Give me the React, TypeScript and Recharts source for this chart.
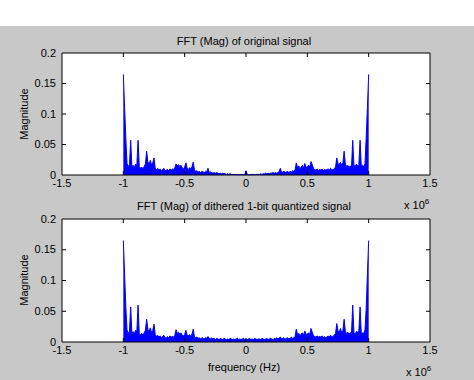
import { Area, AreaChart, CartesianGrid, XAxis, YAxis } from "recharts";

const FONT = "'Liberation Sans', Arial, Helvetica, sans-serif";

// FFT bins: -1e6 .. 1e6 Hz, step 0.01e6 (201 bins), values in x10^6 Hz
const binStart = -1;
const binStep = 0.01;

const xTicks = [-1.5, -1, -0.5, 0, 0.5, 1, 1.5];
const yTicks = [0, 0.05, 0.1, 0.15, 0.2];

// magnitude of original signal
const originalMag = [
  0.165, 0.112, 0.062, 0.019, 0.014, 0.017, 0.057, 0.013, 0.016, 0.012,
  0.018, 0.015, 0.057, 0.014, 0.011, 0.013, 0.010, 0.014, 0.018, 0.039,
  0.022, 0.017, 0.024, 0.016, 0.020, 0.028, 0.011, 0.009, 0.011, 0.008,
  0.010, 0.007, 0.009, 0.011, 0.007, 0.008, 0.009, 0.007, 0.010, 0.008,
  0.010, 0.009, 0.012, 0.018, 0.015, 0.017, 0.014, 0.016, 0.012, 0.010,
  0.013, 0.020, 0.011, 0.009, 0.012, 0.010, 0.014, 0.021, 0.008, 0.006,
  0.007, 0.005, 0.006, 0.004, 0.006, 0.005, 0.004, 0.006, 0.005, 0.011,
  0.004, 0.005, 0.004, 0.003, 0.004, 0.003, 0.004, 0.003, 0.002, 0.003,
  0.002, 0.003, 0.002, 0.002, 0.001, 0.002, 0.001, 0.002, 0.001, 0.001,
  0.001, 0.001, 0.0005, 0.001, 0.0005, 0.0005, 0.001, 0.0005, 0.0005, 0.001,
  0.007,
  0.001, 0.0005, 0.0005, 0.001, 0.0005, 0.001, 0.0005, 0.001, 0.001, 0.001,
  0.001, 0.002, 0.001, 0.002, 0.002, 0.003, 0.002, 0.003, 0.002, 0.003,
  0.003, 0.004, 0.003, 0.004, 0.003, 0.004, 0.005, 0.011, 0.004, 0.005,
  0.006, 0.004, 0.005, 0.006, 0.004, 0.006, 0.005, 0.007, 0.006, 0.008,
  0.020, 0.012, 0.015, 0.010, 0.013, 0.016, 0.011, 0.019, 0.012, 0.014,
  0.016, 0.013, 0.022, 0.017, 0.011, 0.009, 0.008, 0.010, 0.007, 0.009,
  0.008, 0.010, 0.007, 0.009, 0.008, 0.009, 0.010, 0.008, 0.011, 0.009,
  0.008, 0.011, 0.013, 0.028, 0.019, 0.017, 0.021, 0.016, 0.020, 0.039,
  0.018, 0.014, 0.016, 0.012, 0.015, 0.013, 0.057, 0.016, 0.014, 0.018,
  0.015, 0.017, 0.057, 0.014, 0.016, 0.013, 0.019, 0.062, 0.112, 0.165,
];

// magnitude of dithered 1-bit quantized signal
const ditheredMag = [
  0.165, 0.112, 0.058, 0.020, 0.013, 0.018, 0.057, 0.014, 0.017, 0.013,
  0.019, 0.016, 0.060, 0.013, 0.012, 0.014, 0.011, 0.015, 0.019, 0.037,
  0.021, 0.016, 0.023, 0.015, 0.019, 0.029, 0.012, 0.009, 0.011, 0.008,
  0.010, 0.007, 0.009, 0.011, 0.007, 0.006, 0.009, 0.007, 0.010, 0.008,
  0.009, 0.008, 0.011, 0.020, 0.014, 0.016, 0.013, 0.015, 0.011, 0.010,
  0.012, 0.019, 0.011, 0.010, 0.012, 0.009, 0.013, 0.021, 0.008, 0.007,
  0.008, 0.006, 0.007, 0.005, 0.007, 0.006, 0.005, 0.007, 0.006, 0.009,
  0.006, 0.005, 0.007, 0.005, 0.006, 0.004, 0.006, 0.005, 0.004, 0.006,
  0.005, 0.004, 0.006, 0.005, 0.004, 0.005, 0.004, 0.006, 0.005, 0.004,
  0.005, 0.004, 0.005, 0.006, 0.004, 0.005, 0.004, 0.005, 0.006, 0.004,
  0.005,
  0.004, 0.005, 0.006, 0.004, 0.005, 0.004, 0.006, 0.005, 0.004, 0.005,
  0.005, 0.004, 0.006, 0.005, 0.004, 0.005, 0.006, 0.004, 0.005, 0.006,
  0.005, 0.004, 0.006, 0.005, 0.007, 0.005, 0.006, 0.008, 0.005, 0.006,
  0.007, 0.005, 0.006, 0.007, 0.005, 0.006, 0.008, 0.006, 0.007, 0.009,
  0.021, 0.012, 0.014, 0.010, 0.013, 0.015, 0.011, 0.018, 0.012, 0.013,
  0.015, 0.012, 0.022, 0.016, 0.010, 0.009, 0.008, 0.010, 0.008, 0.009,
  0.008, 0.010, 0.007, 0.009, 0.007, 0.008, 0.010, 0.008, 0.011, 0.009,
  0.008, 0.012, 0.014, 0.030, 0.018, 0.016, 0.022, 0.015, 0.019, 0.037,
  0.017, 0.014, 0.016, 0.013, 0.015, 0.014, 0.060, 0.015, 0.013, 0.017,
  0.016, 0.018, 0.057, 0.013, 0.015, 0.014, 0.020, 0.055, 0.112, 0.165,
];

const toRows = (mag: number[]) =>
  mag.map((m, i) => ({ f: +(binStart + i * binStep).toFixed(2), m }));

// inner tick marks only, the box edges already cover the ends
const innerX = (v: number) => v > -1.5 && v < 1.5;
const innerY = (v: number) => v > 0 && v < 0.2;

const bottomTick = (p: any) => (
  <g>
    {innerX(p.payload.value) && <line x1={p.x} y1={p.y} x2={p.x} y2={p.y - 4} stroke="#000" />}
    <text x={p.x} y={p.y + 12} textAnchor="middle" fontSize={11} fontFamily={FONT} fill="#000">
      {p.payload.value}
    </text>
  </g>
);

const topTick = (p: any) =>
  innerX(p.payload.value) ? <line x1={p.x} y1={p.y} x2={p.x} y2={p.y + 4} stroke="#000" /> : <g />;

const leftTick = (p: any) => (
  <g>
    {innerY(p.payload.value) && <line x1={p.x} y1={p.y} x2={p.x + 4} y2={p.y} stroke="#000" />}
    <text x={p.x - 6} y={p.y + 3.5} textAnchor="end" fontSize={11} fontFamily={FONT} fill="#000">
      {p.payload.value}
    </text>
  </g>
);

const rightTick = (p: any) =>
  innerY(p.payload.value) ? <line x1={p.x} y1={p.y} x2={p.x - 4} y2={p.y} stroke="#000" /> : <g />;

type PanelProps = {
  mag: number[];
  height: number;
  marginTop: number;
  xAxisHeight: number;
};

function SpectrumPanel({ mag, height, marginTop, xAxisHeight }: PanelProps) {
  return (
    <AreaChart width={474} height={height} data={toRows(mag)} margin={{ top: marginTop, right: 43, bottom: 0, left: 2 }}>
      <CartesianGrid fill="#fff" stroke="none" horizontal={false} vertical={false} />
      <XAxis
        dataKey="f"
        type="number"
        domain={[-1.5, 1.5]}
        ticks={xTicks}
        interval={0}
        height={xAxisHeight}
        stroke="#000"
        tickSize={0}
        tickMargin={0}
        tickLine={false}
        tick={bottomTick}
      />
      <XAxis
        xAxisId="top"
        dataKey="f"
        orientation="top"
        type="number"
        domain={[-1.5, 1.5]}
        ticks={xTicks}
        interval={0}
        height={1}
        stroke="#000"
        tickSize={0}
        tickMargin={0}
        tickLine={false}
        tick={topTick}
      />
      <YAxis
        type="number"
        domain={[0, 0.2]}
        ticks={yTicks}
        interval={0}
        width={60}
        stroke="#000"
        tickSize={0}
        tickMargin={0}
        tickLine={false}
        tick={leftTick}
      />
      <YAxis
        yAxisId="right"
        orientation="right"
        type="number"
        domain={[0, 0.2]}
        ticks={yTicks}
        interval={0}
        width={1}
        stroke="#000"
        tickSize={0}
        tickMargin={0}
        tickLine={false}
        tick={rightTick}
      />
      {/* same series bound to the box axes (top/right) so they get a scale; not painted */}
      <Area
        xAxisId="top"
        yAxisId="right"
        dataKey="m"
        type="linear"
        stroke="none"
        fill="none"
        dot={false}
        activeDot={false}
        isAnimationActive={false}
      />
      <Area
        dataKey="m"
        type="linear"
        stroke="#0000ff"
        strokeWidth={1}
        fill="#0000ff"
        fillOpacity={1}
        dot={false}
        activeDot={false}
        isAnimationActive={false}
      />
    </AreaChart>
  );
}

export default function App() {
  return (
    <div style={{ position: "absolute", left: 0, top: 0, width: 474, height: 380, background: "#fff", overflow: "hidden" }}>
      <div style={{ position: "absolute", left: 0, top: 26, width: 474, height: 354, background: "#c8c8c8" }} />
      <div style={{ position: "absolute", left: 0, top: 26 }}>
        <SpectrumPanel mag={originalMag} height={174} marginTop={26} xAxisHeight={25} />
      </div>
      <div style={{ position: "absolute", left: 0, top: 200 }}>
        <SpectrumPanel mag={ditheredMag} height={180} marginTop={18} xAxisHeight={38} />
      </div>
      <svg width={474} height={380} style={{ position: "absolute", left: 0, top: 0, pointerEvents: "none" }} fontFamily={FONT} fontSize={11} fill="#000">
        <text x={244} y={45} textAnchor="middle">FFT (Mag) of original signal</text>
        <text x={244} y={210} textAnchor="middle">FFT (Mag) of dithered 1-bit quantized signal</text>
        <text x={27.5} y={114} textAnchor="middle" transform="rotate(-90 27.5 114)">Magnitude</text>
        <text x={27.5} y={280} textAnchor="middle" transform="rotate(-90 27.5 280)">Magnitude</text>
        <text x={404} y={209}>
          x 10<tspan dy={-5} fontSize={8}>6</tspan>
        </text>
        <text x={244} y={371} textAnchor="middle">frequency (Hz)</text>
        <text x={406} y={376}>
          x 10<tspan dy={-5} fontSize={8}>6</tspan>
        </text>
      </svg>
    </div>
  );
}
